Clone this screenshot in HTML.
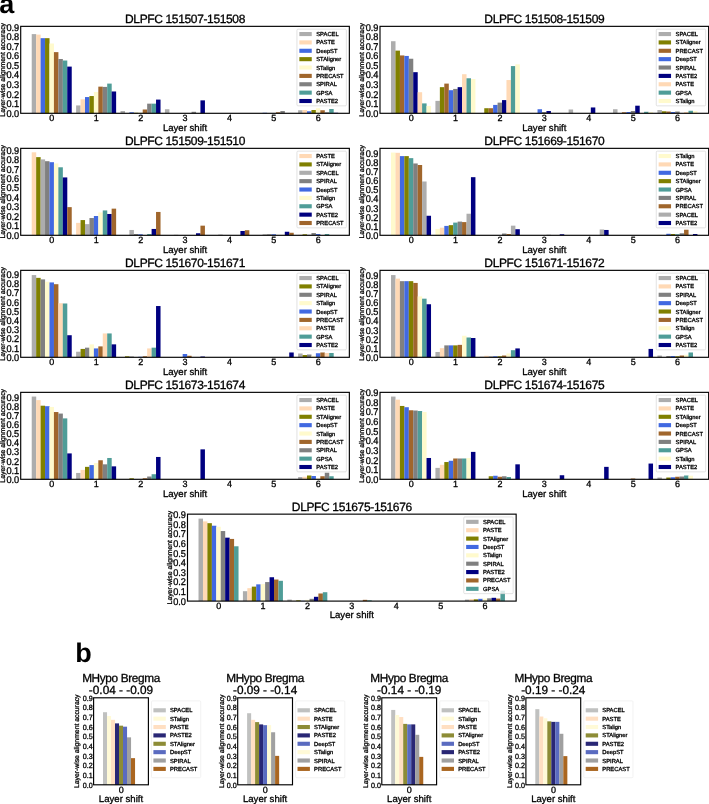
<!DOCTYPE html>
<html lang="en">
<head>
<meta charset="utf-8">
<title>Layer-wise alignment accuracy</title>
<style>
html,body{margin:0;padding:0;background:#fff;}
body{width:709px;height:804px;overflow:hidden;}
svg{display:block;font-family:"Liberation Sans",sans-serif;fill:#000;}
svg text{text-rendering:geometricPrecision;letter-spacing:-0.03em;stroke:#000;stroke-width:0.3px;stroke-linejoin:round;}
svg rect{shape-rendering:auto;}
.lg{stroke-width:0.3px;letter-spacing:0;}
.yt{letter-spacing:0;}
.pl{stroke-width:0;letter-spacing:0;}
.xl{letter-spacing:0;}
.yl{stroke-width:0.28px;letter-spacing:-0.005em;}
</style>
</head>
<body>
<svg width="709" height="804" viewBox="0 0 709 804">
<rect x="0" y="0" width="709" height="804" fill="#fff"/>
<rect x="31.72" y="34.11" width="4.49" height="79.19" fill="#adadad"/>
<rect x="36.16" y="34.62" width="4.49" height="78.68" fill="#ffd9b5"/>
<rect x="40.6" y="38.17" width="4.49" height="75.13" fill="#4169e1"/>
<rect x="45.04" y="38.17" width="4.49" height="75.13" fill="#808000"/>
<rect x="49.48" y="43.5" width="4.49" height="69.8" fill="#fffacd"/>
<rect x="53.92" y="52.13" width="4.49" height="61.17" fill="#a0662c"/>
<rect x="58.36" y="58.99" width="4.49" height="54.31" fill="#808080"/>
<rect x="62.8" y="60.51" width="4.49" height="52.79" fill="#4f9d98"/>
<rect x="67.24" y="66.6" width="4.49" height="46.7" fill="#000080"/>
<rect x="76.12" y="105.43" width="4.49" height="7.87" fill="#adadad"/>
<rect x="80.56" y="99.34" width="4.49" height="13.96" fill="#ffd9b5"/>
<rect x="85" y="97.06" width="4.49" height="16.24" fill="#4169e1"/>
<rect x="89.44" y="96.04" width="4.49" height="17.26" fill="#808000"/>
<rect x="93.88" y="91.98" width="4.49" height="21.32" fill="#fffacd"/>
<rect x="98.32" y="86.65" width="4.49" height="26.65" fill="#a0662c"/>
<rect x="102.76" y="86.9" width="4.49" height="26.4" fill="#808080"/>
<rect x="107.2" y="83.6" width="4.49" height="29.7" fill="#4f9d98"/>
<rect x="111.64" y="91.47" width="4.49" height="21.83" fill="#000080"/>
<rect x="120.52" y="111.02" width="4.49" height="2.28" fill="#adadad"/>
<rect x="129.4" y="112.28" width="4.49" height="1.02" fill="#4169e1"/>
<rect x="133.84" y="112.79" width="4.49" height="0.51" fill="#808000"/>
<rect x="138.28" y="112.54" width="4.49" height="0.76" fill="#fffacd"/>
<rect x="142.72" y="109.49" width="4.49" height="3.81" fill="#a0662c"/>
<rect x="147.16" y="103.66" width="4.49" height="9.64" fill="#808080"/>
<rect x="151.6" y="103.66" width="4.49" height="9.64" fill="#4f9d98"/>
<rect x="156.04" y="99.59" width="4.49" height="13.71" fill="#000080"/>
<rect x="164.92" y="109.24" width="4.49" height="4.06" fill="#adadad"/>
<rect x="191.56" y="111.78" width="4.49" height="1.52" fill="#808080"/>
<rect x="200.44" y="100.36" width="4.49" height="12.94" fill="#000080"/>
<rect x="262.6" y="112.79" width="4.49" height="0.51" fill="#4169e1"/>
<rect x="275.92" y="112.28" width="4.49" height="1.02" fill="#a0662c"/>
<rect x="280.36" y="111.02" width="4.49" height="2.28" fill="#808080"/>
<rect x="298.12" y="110.25" width="4.49" height="3.05" fill="#adadad"/>
<rect x="302.56" y="110" width="4.49" height="3.3" fill="#ffd9b5"/>
<rect x="307" y="111.27" width="4.49" height="2.03" fill="#4169e1"/>
<rect x="311.44" y="110" width="4.49" height="3.3" fill="#808000"/>
<rect x="315.88" y="108.22" width="4.49" height="5.08" fill="#fffacd"/>
<rect x="320.32" y="110.25" width="4.49" height="3.05" fill="#a0662c"/>
<rect x="324.76" y="112.28" width="4.49" height="1.02" fill="#808080"/>
<rect x="329.2" y="108.99" width="4.49" height="4.31" fill="#4f9d98"/>
<rect x="333.64" y="112.79" width="4.49" height="0.51" fill="#000080"/>
<text x="19.2" y="116.81" font-size="9.8" text-anchor="end" class="yt" textLength="12.8" lengthAdjust="spacingAndGlyphs">0.0</text>
<text x="19.2" y="107.23" font-size="9.8" text-anchor="end" class="yt" textLength="12.8" lengthAdjust="spacingAndGlyphs">0.1</text>
<text x="19.2" y="97.65" font-size="9.8" text-anchor="end" class="yt" textLength="12.8" lengthAdjust="spacingAndGlyphs">0.2</text>
<text x="19.2" y="88.06" font-size="9.8" text-anchor="end" class="yt" textLength="12.8" lengthAdjust="spacingAndGlyphs">0.3</text>
<text x="19.2" y="78.48" font-size="9.8" text-anchor="end" class="yt" textLength="12.8" lengthAdjust="spacingAndGlyphs">0.4</text>
<text x="19.2" y="68.9" font-size="9.8" text-anchor="end" class="yt" textLength="12.8" lengthAdjust="spacingAndGlyphs">0.5</text>
<text x="19.2" y="59.32" font-size="9.8" text-anchor="end" class="yt" textLength="12.8" lengthAdjust="spacingAndGlyphs">0.6</text>
<text x="19.2" y="49.74" font-size="9.8" text-anchor="end" class="yt" textLength="12.8" lengthAdjust="spacingAndGlyphs">0.7</text>
<text x="19.2" y="40.16" font-size="9.8" text-anchor="end" class="yt" textLength="12.8" lengthAdjust="spacingAndGlyphs">0.8</text>
<text x="19.2" y="30.58" font-size="9.8" text-anchor="end" class="yt" textLength="12.8" lengthAdjust="spacingAndGlyphs">0.9</text>
<text transform="translate(5 69.83) rotate(-90)" font-size="6.9" text-anchor="middle" class="yl">Layer-wise alignment accuracy</text>
<rect x="20.7" y="26.35" width="328.65" height="86.95" fill="none" stroke="#000" stroke-width="1.15"/>
<text x="51.7" y="121.2" font-size="9" text-anchor="middle">0</text>
<text x="96.1" y="121.2" font-size="9" text-anchor="middle">1</text>
<text x="140.5" y="121.2" font-size="9" text-anchor="middle">2</text>
<text x="184.9" y="121.2" font-size="9" text-anchor="middle">3</text>
<text x="229.3" y="121.2" font-size="9" text-anchor="middle">4</text>
<text x="273.7" y="121.2" font-size="9" text-anchor="middle">5</text>
<text x="318.1" y="121.2" font-size="9" text-anchor="middle">6</text>
<text x="185.02" y="130.5" font-size="9.6" text-anchor="middle" class="xl">Layer shift</text>
<text x="185.02" y="23.35" font-size="12" text-anchor="middle">DLPFC 151507-151508</text>
<rect x="296.95" y="29.15" width="49.4" height="76.7" rx="1" fill="#fff" fill-opacity="0.8" stroke="#d6d6d6" stroke-width="0.7"/>
<rect x="299.35" y="32" width="12.4" height="4.1" fill="#adadad"/>
<text x="316.25" y="36.05" font-size="5.8" text-anchor="start" class="lg">SPACEL</text>
<rect x="299.35" y="40.37" width="12.4" height="4.1" fill="#ffd9b5"/>
<text x="316.25" y="44.42" font-size="5.8" text-anchor="start" class="lg">PASTE</text>
<rect x="299.35" y="48.74" width="12.4" height="4.1" fill="#4169e1"/>
<text x="316.25" y="52.79" font-size="5.8" text-anchor="start" class="lg">DeepST</text>
<rect x="299.35" y="57.11" width="12.4" height="4.1" fill="#808000"/>
<text x="316.25" y="61.16" font-size="5.8" text-anchor="start" class="lg">STAligner</text>
<rect x="299.35" y="65.48" width="12.4" height="4.1" fill="#fffacd"/>
<text x="316.25" y="69.53" font-size="5.8" text-anchor="start" class="lg">STalign</text>
<rect x="299.35" y="73.85" width="12.4" height="4.1" fill="#a0662c"/>
<text x="316.25" y="77.9" font-size="5.8" text-anchor="start" class="lg">PRECAST</text>
<rect x="299.35" y="82.22" width="12.4" height="4.1" fill="#808080"/>
<text x="316.25" y="86.27" font-size="5.8" text-anchor="start" class="lg">SPIRAL</text>
<rect x="299.35" y="90.59" width="12.4" height="4.1" fill="#4f9d98"/>
<text x="316.25" y="94.64" font-size="5.8" text-anchor="start" class="lg">GPSA</text>
<rect x="299.35" y="98.96" width="12.4" height="4.1" fill="#000080"/>
<text x="316.25" y="103.01" font-size="5.8" text-anchor="start" class="lg">PASTE2</text>
<rect x="391.02" y="41.22" width="4.49" height="72.08" fill="#adadad"/>
<rect x="395.46" y="50.61" width="4.49" height="62.69" fill="#808000"/>
<rect x="399.9" y="55.43" width="4.49" height="57.87" fill="#a0662c"/>
<rect x="404.34" y="55.94" width="4.49" height="57.36" fill="#4169e1"/>
<rect x="408.78" y="58.73" width="4.49" height="54.57" fill="#808080"/>
<rect x="413.22" y="72.18" width="4.49" height="41.12" fill="#000080"/>
<rect x="417.66" y="92.23" width="4.49" height="21.07" fill="#ffd9b5"/>
<rect x="422.1" y="103.4" width="4.49" height="9.9" fill="#4f9d98"/>
<rect x="426.54" y="105.94" width="4.49" height="7.36" fill="#fffacd"/>
<rect x="435.42" y="100.86" width="4.49" height="12.44" fill="#adadad"/>
<rect x="439.86" y="87.16" width="4.49" height="26.14" fill="#808000"/>
<rect x="444.3" y="83.6" width="4.49" height="29.7" fill="#a0662c"/>
<rect x="448.74" y="90.2" width="4.49" height="23.1" fill="#4169e1"/>
<rect x="453.18" y="88.93" width="4.49" height="24.37" fill="#808080"/>
<rect x="457.62" y="87.16" width="4.49" height="26.14" fill="#000080"/>
<rect x="462.06" y="74.21" width="4.49" height="39.09" fill="#ffd9b5"/>
<rect x="466.5" y="78.27" width="4.49" height="35.03" fill="#4f9d98"/>
<rect x="470.94" y="79.04" width="4.49" height="34.26" fill="#fffacd"/>
<rect x="484.26" y="108.22" width="4.49" height="5.08" fill="#808000"/>
<rect x="488.7" y="108.22" width="4.49" height="5.08" fill="#a0662c"/>
<rect x="493.14" y="104.92" width="4.49" height="8.38" fill="#4169e1"/>
<rect x="497.58" y="102.64" width="4.49" height="10.66" fill="#808080"/>
<rect x="502.02" y="100.1" width="4.49" height="13.2" fill="#000080"/>
<rect x="506.46" y="80.05" width="4.49" height="33.25" fill="#ffd9b5"/>
<rect x="510.9" y="66.09" width="4.49" height="47.21" fill="#4f9d98"/>
<rect x="515.34" y="64.32" width="4.49" height="48.98" fill="#fffacd"/>
<rect x="537.54" y="109.24" width="4.49" height="4.06" fill="#4169e1"/>
<rect x="541.98" y="112.03" width="4.49" height="1.27" fill="#808080"/>
<rect x="546.42" y="111.02" width="4.49" height="2.28" fill="#000080"/>
<rect x="568.62" y="109.49" width="4.49" height="3.81" fill="#adadad"/>
<rect x="590.82" y="107.46" width="4.49" height="5.84" fill="#000080"/>
<rect x="613.02" y="109.24" width="4.49" height="4.06" fill="#adadad"/>
<rect x="621.9" y="112.28" width="4.49" height="1.02" fill="#a0662c"/>
<rect x="626.34" y="112.03" width="4.49" height="1.27" fill="#4169e1"/>
<rect x="630.78" y="111.02" width="4.49" height="2.28" fill="#808080"/>
<rect x="635.22" y="105.69" width="4.49" height="7.61" fill="#000080"/>
<rect x="644.1" y="111.78" width="4.49" height="1.52" fill="#4f9d98"/>
<rect x="648.54" y="112.03" width="4.49" height="1.27" fill="#fffacd"/>
<rect x="657.42" y="110" width="4.49" height="3.3" fill="#adadad"/>
<rect x="661.86" y="111.27" width="4.49" height="2.03" fill="#808000"/>
<rect x="666.3" y="111.52" width="4.49" height="1.78" fill="#a0662c"/>
<rect x="670.74" y="112.03" width="4.49" height="1.27" fill="#4169e1"/>
<rect x="675.18" y="111.52" width="4.49" height="1.78" fill="#808080"/>
<rect x="684.06" y="112.03" width="4.49" height="1.27" fill="#ffd9b5"/>
<rect x="688.5" y="110.76" width="4.49" height="2.54" fill="#4f9d98"/>
<rect x="692.94" y="111.02" width="4.49" height="2.28" fill="#fffacd"/>
<text x="378.5" y="116.81" font-size="9.8" text-anchor="end" class="yt" textLength="12.8" lengthAdjust="spacingAndGlyphs">0.0</text>
<text x="378.5" y="107.23" font-size="9.8" text-anchor="end" class="yt" textLength="12.8" lengthAdjust="spacingAndGlyphs">0.1</text>
<text x="378.5" y="97.65" font-size="9.8" text-anchor="end" class="yt" textLength="12.8" lengthAdjust="spacingAndGlyphs">0.2</text>
<text x="378.5" y="88.06" font-size="9.8" text-anchor="end" class="yt" textLength="12.8" lengthAdjust="spacingAndGlyphs">0.3</text>
<text x="378.5" y="78.48" font-size="9.8" text-anchor="end" class="yt" textLength="12.8" lengthAdjust="spacingAndGlyphs">0.4</text>
<text x="378.5" y="68.9" font-size="9.8" text-anchor="end" class="yt" textLength="12.8" lengthAdjust="spacingAndGlyphs">0.5</text>
<text x="378.5" y="59.32" font-size="9.8" text-anchor="end" class="yt" textLength="12.8" lengthAdjust="spacingAndGlyphs">0.6</text>
<text x="378.5" y="49.74" font-size="9.8" text-anchor="end" class="yt" textLength="12.8" lengthAdjust="spacingAndGlyphs">0.7</text>
<text x="378.5" y="40.16" font-size="9.8" text-anchor="end" class="yt" textLength="12.8" lengthAdjust="spacingAndGlyphs">0.8</text>
<text x="378.5" y="30.58" font-size="9.8" text-anchor="end" class="yt" textLength="12.8" lengthAdjust="spacingAndGlyphs">0.9</text>
<text transform="translate(364.3 69.83) rotate(-90)" font-size="6.9" text-anchor="middle" class="yl">Layer-wise alignment accuracy</text>
<rect x="380" y="26.35" width="328.65" height="86.95" fill="none" stroke="#000" stroke-width="1.15"/>
<text x="411" y="121.2" font-size="9" text-anchor="middle">0</text>
<text x="455.4" y="121.2" font-size="9" text-anchor="middle">1</text>
<text x="499.8" y="121.2" font-size="9" text-anchor="middle">2</text>
<text x="544.2" y="121.2" font-size="9" text-anchor="middle">3</text>
<text x="588.6" y="121.2" font-size="9" text-anchor="middle">4</text>
<text x="633" y="121.2" font-size="9" text-anchor="middle">5</text>
<text x="677.4" y="121.2" font-size="9" text-anchor="middle">6</text>
<text x="544.33" y="130.5" font-size="9.6" text-anchor="middle" class="xl">Layer shift</text>
<text x="544.33" y="23.35" font-size="12" text-anchor="middle">DLPFC 151508-151509</text>
<rect x="656.25" y="29.15" width="49.4" height="76.7" rx="1" fill="#fff" fill-opacity="0.8" stroke="#d6d6d6" stroke-width="0.7"/>
<rect x="658.65" y="32" width="12.4" height="4.1" fill="#adadad"/>
<text x="675.55" y="36.05" font-size="5.8" text-anchor="start" class="lg">SPACEL</text>
<rect x="658.65" y="40.37" width="12.4" height="4.1" fill="#808000"/>
<text x="675.55" y="44.42" font-size="5.8" text-anchor="start" class="lg">STAligner</text>
<rect x="658.65" y="48.74" width="12.4" height="4.1" fill="#a0662c"/>
<text x="675.55" y="52.79" font-size="5.8" text-anchor="start" class="lg">PRECAST</text>
<rect x="658.65" y="57.11" width="12.4" height="4.1" fill="#4169e1"/>
<text x="675.55" y="61.16" font-size="5.8" text-anchor="start" class="lg">DeepST</text>
<rect x="658.65" y="65.48" width="12.4" height="4.1" fill="#808080"/>
<text x="675.55" y="69.53" font-size="5.8" text-anchor="start" class="lg">SPIRAL</text>
<rect x="658.65" y="73.85" width="12.4" height="4.1" fill="#000080"/>
<text x="675.55" y="77.9" font-size="5.8" text-anchor="start" class="lg">PASTE2</text>
<rect x="658.65" y="82.22" width="12.4" height="4.1" fill="#ffd9b5"/>
<text x="675.55" y="86.27" font-size="5.8" text-anchor="start" class="lg">PASTE</text>
<rect x="658.65" y="90.59" width="12.4" height="4.1" fill="#4f9d98"/>
<text x="675.55" y="94.64" font-size="5.8" text-anchor="start" class="lg">GPSA</text>
<rect x="658.65" y="98.96" width="12.4" height="4.1" fill="#fffacd"/>
<text x="675.55" y="103.01" font-size="5.8" text-anchor="start" class="lg">STalign</text>
<rect x="31.72" y="152.31" width="4.49" height="82.99" fill="#ffd9b5"/>
<rect x="36.16" y="157.13" width="4.49" height="78.17" fill="#808000"/>
<rect x="40.6" y="159.41" width="4.49" height="75.89" fill="#adadad"/>
<rect x="45.04" y="161.19" width="4.49" height="74.11" fill="#808080"/>
<rect x="49.48" y="162.2" width="4.49" height="73.1" fill="#4169e1"/>
<rect x="53.92" y="163.47" width="4.49" height="71.83" fill="#fffacd"/>
<rect x="58.36" y="167.28" width="4.49" height="68.02" fill="#4f9d98"/>
<rect x="62.8" y="177.43" width="4.49" height="57.87" fill="#000080"/>
<rect x="67.24" y="207.13" width="4.49" height="28.17" fill="#a0662c"/>
<rect x="76.12" y="222.86" width="4.49" height="12.44" fill="#ffd9b5"/>
<rect x="80.56" y="220.07" width="4.49" height="15.23" fill="#808000"/>
<rect x="85" y="224.13" width="4.49" height="11.17" fill="#adadad"/>
<rect x="89.44" y="218.04" width="4.49" height="17.26" fill="#808080"/>
<rect x="93.88" y="216.01" width="4.49" height="19.29" fill="#4169e1"/>
<rect x="98.32" y="212.46" width="4.49" height="22.84" fill="#fffacd"/>
<rect x="102.76" y="210.43" width="4.49" height="24.87" fill="#4f9d98"/>
<rect x="107.2" y="213.98" width="4.49" height="21.32" fill="#000080"/>
<rect x="111.64" y="208.65" width="4.49" height="26.65" fill="#a0662c"/>
<rect x="129.4" y="229.97" width="4.49" height="5.33" fill="#adadad"/>
<rect x="133.84" y="234.03" width="4.49" height="1.27" fill="#808080"/>
<rect x="138.28" y="234.28" width="4.49" height="1.02" fill="#4169e1"/>
<rect x="147.16" y="234.03" width="4.49" height="1.27" fill="#4f9d98"/>
<rect x="151.6" y="228.95" width="4.49" height="6.35" fill="#000080"/>
<rect x="156.04" y="211.95" width="4.49" height="23.35" fill="#a0662c"/>
<rect x="173.8" y="234.79" width="4.49" height="0.51" fill="#adadad"/>
<rect x="196" y="233.27" width="4.49" height="2.03" fill="#000080"/>
<rect x="200.44" y="225.66" width="4.49" height="9.64" fill="#a0662c"/>
<rect x="218.2" y="234.54" width="4.49" height="0.76" fill="#adadad"/>
<rect x="240.4" y="230.99" width="4.49" height="4.31" fill="#000080"/>
<rect x="244.84" y="230.22" width="4.49" height="5.08" fill="#a0662c"/>
<rect x="262.6" y="234.28" width="4.49" height="1.02" fill="#adadad"/>
<rect x="267.04" y="234.28" width="4.49" height="1.02" fill="#808080"/>
<rect x="271.48" y="234.28" width="4.49" height="1.02" fill="#4169e1"/>
<rect x="284.8" y="231.75" width="4.49" height="3.55" fill="#000080"/>
<rect x="289.24" y="232.76" width="4.49" height="2.54" fill="#a0662c"/>
<rect x="298.12" y="234.79" width="4.49" height="0.51" fill="#ffd9b5"/>
<rect x="302.56" y="234.28" width="4.49" height="1.02" fill="#808000"/>
<rect x="307" y="234.79" width="4.49" height="0.51" fill="#adadad"/>
<rect x="311.44" y="233.02" width="4.49" height="2.28" fill="#808080"/>
<rect x="315.88" y="234.03" width="4.49" height="1.27" fill="#4169e1"/>
<rect x="324.76" y="234.03" width="4.49" height="1.27" fill="#4f9d98"/>
<text x="19.2" y="238.81" font-size="9.8" text-anchor="end" class="yt" textLength="12.8" lengthAdjust="spacingAndGlyphs">0.0</text>
<text x="19.2" y="229.34" font-size="9.8" text-anchor="end" class="yt" textLength="12.8" lengthAdjust="spacingAndGlyphs">0.1</text>
<text x="19.2" y="219.87" font-size="9.8" text-anchor="end" class="yt" textLength="12.8" lengthAdjust="spacingAndGlyphs">0.2</text>
<text x="19.2" y="210.41" font-size="9.8" text-anchor="end" class="yt" textLength="12.8" lengthAdjust="spacingAndGlyphs">0.3</text>
<text x="19.2" y="200.94" font-size="9.8" text-anchor="end" class="yt" textLength="12.8" lengthAdjust="spacingAndGlyphs">0.4</text>
<text x="19.2" y="191.47" font-size="9.8" text-anchor="end" class="yt" textLength="12.8" lengthAdjust="spacingAndGlyphs">0.5</text>
<text x="19.2" y="182.01" font-size="9.8" text-anchor="end" class="yt" textLength="12.8" lengthAdjust="spacingAndGlyphs">0.6</text>
<text x="19.2" y="172.54" font-size="9.8" text-anchor="end" class="yt" textLength="12.8" lengthAdjust="spacingAndGlyphs">0.7</text>
<text x="19.2" y="163.07" font-size="9.8" text-anchor="end" class="yt" textLength="12.8" lengthAdjust="spacingAndGlyphs">0.8</text>
<text x="19.2" y="153.61" font-size="9.8" text-anchor="end" class="yt" textLength="12.8" lengthAdjust="spacingAndGlyphs">0.9</text>
<text transform="translate(5 191.82) rotate(-90)" font-size="6.9" text-anchor="middle" class="yl">Layer-wise alignment accuracy</text>
<rect x="20.7" y="148.35" width="328.65" height="86.95" fill="none" stroke="#000" stroke-width="1.15"/>
<text x="51.7" y="243.2" font-size="9" text-anchor="middle">0</text>
<text x="96.1" y="243.2" font-size="9" text-anchor="middle">1</text>
<text x="140.5" y="243.2" font-size="9" text-anchor="middle">2</text>
<text x="184.9" y="243.2" font-size="9" text-anchor="middle">3</text>
<text x="229.3" y="243.2" font-size="9" text-anchor="middle">4</text>
<text x="273.7" y="243.2" font-size="9" text-anchor="middle">5</text>
<text x="318.1" y="243.2" font-size="9" text-anchor="middle">6</text>
<text x="185.02" y="252.5" font-size="9.6" text-anchor="middle" class="xl">Layer shift</text>
<text x="185.02" y="145.35" font-size="12" text-anchor="middle">DLPFC 151509-151510</text>
<rect x="296.95" y="151.15" width="49.4" height="76.7" rx="1" fill="#fff" fill-opacity="0.8" stroke="#d6d6d6" stroke-width="0.7"/>
<rect x="299.35" y="154" width="12.4" height="4.1" fill="#ffd9b5"/>
<text x="316.25" y="158.05" font-size="5.8" text-anchor="start" class="lg">PASTE</text>
<rect x="299.35" y="162.37" width="12.4" height="4.1" fill="#808000"/>
<text x="316.25" y="166.42" font-size="5.8" text-anchor="start" class="lg">STAligner</text>
<rect x="299.35" y="170.74" width="12.4" height="4.1" fill="#adadad"/>
<text x="316.25" y="174.79" font-size="5.8" text-anchor="start" class="lg">SPACEL</text>
<rect x="299.35" y="179.11" width="12.4" height="4.1" fill="#808080"/>
<text x="316.25" y="183.16" font-size="5.8" text-anchor="start" class="lg">SPIRAL</text>
<rect x="299.35" y="187.48" width="12.4" height="4.1" fill="#4169e1"/>
<text x="316.25" y="191.53" font-size="5.8" text-anchor="start" class="lg">DeepST</text>
<rect x="299.35" y="195.85" width="12.4" height="4.1" fill="#fffacd"/>
<text x="316.25" y="199.9" font-size="5.8" text-anchor="start" class="lg">STalign</text>
<rect x="299.35" y="204.22" width="12.4" height="4.1" fill="#4f9d98"/>
<text x="316.25" y="208.27" font-size="5.8" text-anchor="start" class="lg">GPSA</text>
<rect x="299.35" y="212.59" width="12.4" height="4.1" fill="#000080"/>
<text x="316.25" y="216.64" font-size="5.8" text-anchor="start" class="lg">PASTE2</text>
<rect x="299.35" y="220.96" width="12.4" height="4.1" fill="#a0662c"/>
<text x="316.25" y="225.01" font-size="5.8" text-anchor="start" class="lg">PRECAST</text>
<rect x="391.02" y="152.56" width="4.49" height="82.74" fill="#fffacd"/>
<rect x="395.46" y="152.81" width="4.49" height="82.49" fill="#ffd9b5"/>
<rect x="399.9" y="156.11" width="4.49" height="79.19" fill="#4169e1"/>
<rect x="404.34" y="156.11" width="4.49" height="79.19" fill="#808000"/>
<rect x="408.78" y="158.14" width="4.49" height="77.16" fill="#4f9d98"/>
<rect x="413.22" y="163.47" width="4.49" height="71.83" fill="#808080"/>
<rect x="417.66" y="165" width="4.49" height="70.3" fill="#a0662c"/>
<rect x="422.1" y="181.49" width="4.49" height="53.81" fill="#adadad"/>
<rect x="426.54" y="215.76" width="4.49" height="19.54" fill="#000080"/>
<rect x="435.42" y="228.95" width="4.49" height="6.35" fill="#fffacd"/>
<rect x="439.86" y="227.69" width="4.49" height="7.61" fill="#ffd9b5"/>
<rect x="444.3" y="225.91" width="4.49" height="9.39" fill="#4169e1"/>
<rect x="448.74" y="225.15" width="4.49" height="10.15" fill="#808000"/>
<rect x="453.18" y="222.61" width="4.49" height="12.69" fill="#4f9d98"/>
<rect x="457.62" y="221.59" width="4.49" height="13.71" fill="#808080"/>
<rect x="462.06" y="222.1" width="4.49" height="13.2" fill="#a0662c"/>
<rect x="466.5" y="213.73" width="4.49" height="21.57" fill="#adadad"/>
<rect x="470.94" y="177.18" width="4.49" height="58.12" fill="#000080"/>
<rect x="502.02" y="233.52" width="4.49" height="1.78" fill="#808080"/>
<rect x="506.46" y="234.03" width="4.49" height="1.27" fill="#a0662c"/>
<rect x="510.9" y="225.66" width="4.49" height="9.64" fill="#adadad"/>
<rect x="515.34" y="229.21" width="4.49" height="6.09" fill="#000080"/>
<rect x="546.42" y="234.79" width="4.49" height="0.51" fill="#808080"/>
<rect x="559.74" y="234.28" width="4.49" height="1.02" fill="#000080"/>
<rect x="599.7" y="229.46" width="4.49" height="5.84" fill="#adadad"/>
<rect x="604.14" y="229.97" width="4.49" height="5.33" fill="#000080"/>
<rect x="635.22" y="235.05" width="4.49" height="0.25" fill="#808080"/>
<rect x="657.42" y="234.79" width="4.49" height="0.51" fill="#fffacd"/>
<rect x="666.3" y="233.78" width="4.49" height="1.52" fill="#4169e1"/>
<rect x="670.74" y="234.03" width="4.49" height="1.27" fill="#808000"/>
<rect x="675.18" y="234.28" width="4.49" height="1.02" fill="#4f9d98"/>
<rect x="679.62" y="233.27" width="4.49" height="2.03" fill="#808080"/>
<rect x="684.06" y="229.72" width="4.49" height="5.58" fill="#a0662c"/>
<rect x="692.94" y="234.03" width="4.49" height="1.27" fill="#000080"/>
<text x="378.5" y="238.81" font-size="9.8" text-anchor="end" class="yt" textLength="12.8" lengthAdjust="spacingAndGlyphs">0.0</text>
<text x="378.5" y="229.72" font-size="9.8" text-anchor="end" class="yt" textLength="12.8" lengthAdjust="spacingAndGlyphs">0.1</text>
<text x="378.5" y="220.64" font-size="9.8" text-anchor="end" class="yt" textLength="12.8" lengthAdjust="spacingAndGlyphs">0.2</text>
<text x="378.5" y="211.55" font-size="9.8" text-anchor="end" class="yt" textLength="12.8" lengthAdjust="spacingAndGlyphs">0.3</text>
<text x="378.5" y="202.46" font-size="9.8" text-anchor="end" class="yt" textLength="12.8" lengthAdjust="spacingAndGlyphs">0.4</text>
<text x="378.5" y="193.38" font-size="9.8" text-anchor="end" class="yt" textLength="12.8" lengthAdjust="spacingAndGlyphs">0.5</text>
<text x="378.5" y="184.29" font-size="9.8" text-anchor="end" class="yt" textLength="12.8" lengthAdjust="spacingAndGlyphs">0.6</text>
<text x="378.5" y="175.2" font-size="9.8" text-anchor="end" class="yt" textLength="12.8" lengthAdjust="spacingAndGlyphs">0.7</text>
<text x="378.5" y="166.12" font-size="9.8" text-anchor="end" class="yt" textLength="12.8" lengthAdjust="spacingAndGlyphs">0.8</text>
<text x="378.5" y="157.03" font-size="9.8" text-anchor="end" class="yt" textLength="12.8" lengthAdjust="spacingAndGlyphs">0.9</text>
<text transform="translate(364.3 191.82) rotate(-90)" font-size="6.9" text-anchor="middle" class="yl">Layer-wise alignment accuracy</text>
<rect x="380" y="148.35" width="328.65" height="86.95" fill="none" stroke="#000" stroke-width="1.15"/>
<text x="411" y="243.2" font-size="9" text-anchor="middle">0</text>
<text x="455.4" y="243.2" font-size="9" text-anchor="middle">1</text>
<text x="499.8" y="243.2" font-size="9" text-anchor="middle">2</text>
<text x="544.2" y="243.2" font-size="9" text-anchor="middle">3</text>
<text x="588.6" y="243.2" font-size="9" text-anchor="middle">4</text>
<text x="633" y="243.2" font-size="9" text-anchor="middle">5</text>
<text x="677.4" y="243.2" font-size="9" text-anchor="middle">6</text>
<text x="544.33" y="252.5" font-size="9.6" text-anchor="middle" class="xl">Layer shift</text>
<text x="544.33" y="145.35" font-size="12" text-anchor="middle">DLPFC 151669-151670</text>
<rect x="656.25" y="151.15" width="49.4" height="76.7" rx="1" fill="#fff" fill-opacity="0.8" stroke="#d6d6d6" stroke-width="0.7"/>
<rect x="658.65" y="154" width="12.4" height="4.1" fill="#fffacd"/>
<text x="675.55" y="158.05" font-size="5.8" text-anchor="start" class="lg">STalign</text>
<rect x="658.65" y="162.37" width="12.4" height="4.1" fill="#ffd9b5"/>
<text x="675.55" y="166.42" font-size="5.8" text-anchor="start" class="lg">PASTE</text>
<rect x="658.65" y="170.74" width="12.4" height="4.1" fill="#4169e1"/>
<text x="675.55" y="174.79" font-size="5.8" text-anchor="start" class="lg">DeepST</text>
<rect x="658.65" y="179.11" width="12.4" height="4.1" fill="#808000"/>
<text x="675.55" y="183.16" font-size="5.8" text-anchor="start" class="lg">STAligner</text>
<rect x="658.65" y="187.48" width="12.4" height="4.1" fill="#4f9d98"/>
<text x="675.55" y="191.53" font-size="5.8" text-anchor="start" class="lg">GPSA</text>
<rect x="658.65" y="195.85" width="12.4" height="4.1" fill="#808080"/>
<text x="675.55" y="199.9" font-size="5.8" text-anchor="start" class="lg">SPIRAL</text>
<rect x="658.65" y="204.22" width="12.4" height="4.1" fill="#a0662c"/>
<text x="675.55" y="208.27" font-size="5.8" text-anchor="start" class="lg">PRECAST</text>
<rect x="658.65" y="212.59" width="12.4" height="4.1" fill="#adadad"/>
<text x="675.55" y="216.64" font-size="5.8" text-anchor="start" class="lg">SPACEL</text>
<rect x="658.65" y="220.96" width="12.4" height="4.1" fill="#000080"/>
<text x="675.55" y="225.01" font-size="5.8" text-anchor="start" class="lg">PASTE2</text>
<rect x="31.72" y="275.07" width="4.49" height="82.23" fill="#adadad"/>
<rect x="36.16" y="277.86" width="4.49" height="79.44" fill="#808000"/>
<rect x="40.6" y="279.38" width="4.49" height="77.92" fill="#808080"/>
<rect x="45.04" y="281.67" width="4.49" height="75.63" fill="#fffacd"/>
<rect x="49.48" y="282.43" width="4.49" height="74.87" fill="#4169e1"/>
<rect x="53.92" y="284.2" width="4.49" height="73.1" fill="#a0662c"/>
<rect x="58.36" y="303.24" width="4.49" height="54.06" fill="#ffd9b5"/>
<rect x="62.8" y="303.49" width="4.49" height="53.81" fill="#4f9d98"/>
<rect x="67.24" y="335.22" width="4.49" height="22.08" fill="#000080"/>
<rect x="76.12" y="351.72" width="4.49" height="5.58" fill="#adadad"/>
<rect x="80.56" y="348.92" width="4.49" height="8.38" fill="#808000"/>
<rect x="85" y="347.66" width="4.49" height="9.64" fill="#808080"/>
<rect x="89.44" y="344.36" width="4.49" height="12.94" fill="#fffacd"/>
<rect x="93.88" y="348.42" width="4.49" height="8.88" fill="#4169e1"/>
<rect x="98.32" y="346.39" width="4.49" height="10.91" fill="#a0662c"/>
<rect x="102.76" y="333.44" width="4.49" height="23.86" fill="#ffd9b5"/>
<rect x="107.2" y="333.44" width="4.49" height="23.86" fill="#4f9d98"/>
<rect x="111.64" y="344.36" width="4.49" height="12.94" fill="#000080"/>
<rect x="124.96" y="356.28" width="4.49" height="1.02" fill="#808000"/>
<rect x="129.4" y="356.54" width="4.49" height="0.76" fill="#808080"/>
<rect x="138.28" y="356.79" width="4.49" height="0.51" fill="#4169e1"/>
<rect x="142.72" y="356.28" width="4.49" height="1.02" fill="#a0662c"/>
<rect x="147.16" y="348.42" width="4.49" height="8.88" fill="#ffd9b5"/>
<rect x="151.6" y="347.66" width="4.49" height="9.64" fill="#4f9d98"/>
<rect x="156.04" y="306.03" width="4.49" height="51.27" fill="#000080"/>
<rect x="178.24" y="357.05" width="4.49" height="0.25" fill="#fffacd"/>
<rect x="182.68" y="354" width="4.49" height="3.3" fill="#4169e1"/>
<rect x="187.12" y="355.78" width="4.49" height="1.52" fill="#a0662c"/>
<rect x="200.44" y="356.54" width="4.49" height="0.76" fill="#000080"/>
<rect x="289.24" y="352.48" width="4.49" height="4.82" fill="#000080"/>
<rect x="298.12" y="353.49" width="4.49" height="3.81" fill="#adadad"/>
<rect x="302.56" y="355.02" width="4.49" height="2.28" fill="#808000"/>
<rect x="307" y="354.51" width="4.49" height="2.79" fill="#808080"/>
<rect x="311.44" y="355.78" width="4.49" height="1.52" fill="#fffacd"/>
<rect x="315.88" y="353.24" width="4.49" height="4.06" fill="#4169e1"/>
<rect x="320.32" y="352.48" width="4.49" height="4.82" fill="#a0662c"/>
<rect x="324.76" y="352.99" width="4.49" height="4.31" fill="#ffd9b5"/>
<rect x="329.2" y="352.99" width="4.49" height="4.31" fill="#4f9d98"/>
<text x="19.2" y="360.81" font-size="9.8" text-anchor="end" class="yt" textLength="12.8" lengthAdjust="spacingAndGlyphs">0.0</text>
<text x="19.2" y="351.6" font-size="9.8" text-anchor="end" class="yt" textLength="12.8" lengthAdjust="spacingAndGlyphs">0.1</text>
<text x="19.2" y="342.38" font-size="9.8" text-anchor="end" class="yt" textLength="12.8" lengthAdjust="spacingAndGlyphs">0.2</text>
<text x="19.2" y="333.17" font-size="9.8" text-anchor="end" class="yt" textLength="12.8" lengthAdjust="spacingAndGlyphs">0.3</text>
<text x="19.2" y="323.96" font-size="9.8" text-anchor="end" class="yt" textLength="12.8" lengthAdjust="spacingAndGlyphs">0.4</text>
<text x="19.2" y="314.74" font-size="9.8" text-anchor="end" class="yt" textLength="12.8" lengthAdjust="spacingAndGlyphs">0.5</text>
<text x="19.2" y="305.53" font-size="9.8" text-anchor="end" class="yt" textLength="12.8" lengthAdjust="spacingAndGlyphs">0.6</text>
<text x="19.2" y="296.32" font-size="9.8" text-anchor="end" class="yt" textLength="12.8" lengthAdjust="spacingAndGlyphs">0.7</text>
<text x="19.2" y="287.1" font-size="9.8" text-anchor="end" class="yt" textLength="12.8" lengthAdjust="spacingAndGlyphs">0.8</text>
<text x="19.2" y="277.89" font-size="9.8" text-anchor="end" class="yt" textLength="12.8" lengthAdjust="spacingAndGlyphs">0.9</text>
<text transform="translate(5 313.83) rotate(-90)" font-size="6.9" text-anchor="middle" class="yl">Layer-wise alignment accuracy</text>
<rect x="20.7" y="270.35" width="328.65" height="86.95" fill="none" stroke="#000" stroke-width="1.15"/>
<text x="51.7" y="365.2" font-size="9" text-anchor="middle">0</text>
<text x="96.1" y="365.2" font-size="9" text-anchor="middle">1</text>
<text x="140.5" y="365.2" font-size="9" text-anchor="middle">2</text>
<text x="184.9" y="365.2" font-size="9" text-anchor="middle">3</text>
<text x="229.3" y="365.2" font-size="9" text-anchor="middle">4</text>
<text x="273.7" y="365.2" font-size="9" text-anchor="middle">5</text>
<text x="318.1" y="365.2" font-size="9" text-anchor="middle">6</text>
<text x="185.02" y="374.5" font-size="9.6" text-anchor="middle" class="xl">Layer shift</text>
<text x="185.02" y="267.35" font-size="12" text-anchor="middle">DLPFC 151670-151671</text>
<rect x="296.95" y="273.15" width="49.4" height="76.7" rx="1" fill="#fff" fill-opacity="0.8" stroke="#d6d6d6" stroke-width="0.7"/>
<rect x="299.35" y="276" width="12.4" height="4.1" fill="#adadad"/>
<text x="316.25" y="280.05" font-size="5.8" text-anchor="start" class="lg">SPACEL</text>
<rect x="299.35" y="284.37" width="12.4" height="4.1" fill="#808000"/>
<text x="316.25" y="288.42" font-size="5.8" text-anchor="start" class="lg">STAligner</text>
<rect x="299.35" y="292.74" width="12.4" height="4.1" fill="#808080"/>
<text x="316.25" y="296.79" font-size="5.8" text-anchor="start" class="lg">SPIRAL</text>
<rect x="299.35" y="301.11" width="12.4" height="4.1" fill="#fffacd"/>
<text x="316.25" y="305.16" font-size="5.8" text-anchor="start" class="lg">STalign</text>
<rect x="299.35" y="309.48" width="12.4" height="4.1" fill="#4169e1"/>
<text x="316.25" y="313.53" font-size="5.8" text-anchor="start" class="lg">DeepST</text>
<rect x="299.35" y="317.85" width="12.4" height="4.1" fill="#a0662c"/>
<text x="316.25" y="321.9" font-size="5.8" text-anchor="start" class="lg">PRECAST</text>
<rect x="299.35" y="326.22" width="12.4" height="4.1" fill="#ffd9b5"/>
<text x="316.25" y="330.27" font-size="5.8" text-anchor="start" class="lg">PASTE</text>
<rect x="299.35" y="334.59" width="12.4" height="4.1" fill="#4f9d98"/>
<text x="316.25" y="338.64" font-size="5.8" text-anchor="start" class="lg">GPSA</text>
<rect x="299.35" y="342.96" width="12.4" height="4.1" fill="#000080"/>
<text x="316.25" y="347.01" font-size="5.8" text-anchor="start" class="lg">PASTE2</text>
<rect x="391.02" y="275.07" width="4.49" height="82.23" fill="#adadad"/>
<rect x="395.46" y="278.62" width="4.49" height="78.68" fill="#ffd9b5"/>
<rect x="399.9" y="281.16" width="4.49" height="76.14" fill="#808080"/>
<rect x="404.34" y="281.16" width="4.49" height="76.14" fill="#4169e1"/>
<rect x="408.78" y="281.16" width="4.49" height="76.14" fill="#808000"/>
<rect x="413.22" y="282.93" width="4.49" height="74.37" fill="#a0662c"/>
<rect x="417.66" y="296.39" width="4.49" height="60.91" fill="#fffacd"/>
<rect x="422.1" y="298.67" width="4.49" height="58.63" fill="#4f9d98"/>
<rect x="426.54" y="304.25" width="4.49" height="53.05" fill="#000080"/>
<rect x="435.42" y="351.97" width="4.49" height="5.33" fill="#adadad"/>
<rect x="439.86" y="348.16" width="4.49" height="9.14" fill="#ffd9b5"/>
<rect x="444.3" y="345.37" width="4.49" height="11.93" fill="#808080"/>
<rect x="448.74" y="345.37" width="4.49" height="11.93" fill="#4169e1"/>
<rect x="453.18" y="345.37" width="4.49" height="11.93" fill="#808000"/>
<rect x="457.62" y="344.86" width="4.49" height="12.44" fill="#a0662c"/>
<rect x="462.06" y="335.73" width="4.49" height="21.57" fill="#fffacd"/>
<rect x="466.5" y="337.5" width="4.49" height="19.8" fill="#4f9d98"/>
<rect x="470.94" y="338.01" width="4.49" height="19.29" fill="#000080"/>
<rect x="479.82" y="356.79" width="4.49" height="0.51" fill="#adadad"/>
<rect x="484.26" y="355.78" width="4.49" height="1.52" fill="#ffd9b5"/>
<rect x="488.7" y="356.54" width="4.49" height="0.76" fill="#808080"/>
<rect x="493.14" y="356.28" width="4.49" height="1.02" fill="#4169e1"/>
<rect x="497.58" y="356.28" width="4.49" height="1.02" fill="#808000"/>
<rect x="502.02" y="355.52" width="4.49" height="1.78" fill="#a0662c"/>
<rect x="506.46" y="353.49" width="4.49" height="3.81" fill="#fffacd"/>
<rect x="510.9" y="350.19" width="4.49" height="7.11" fill="#4f9d98"/>
<rect x="515.34" y="348.42" width="4.49" height="8.88" fill="#000080"/>
<rect x="648.54" y="348.92" width="4.49" height="8.38" fill="#000080"/>
<rect x="657.42" y="355.52" width="4.49" height="1.78" fill="#adadad"/>
<rect x="666.3" y="356.03" width="4.49" height="1.27" fill="#808080"/>
<rect x="670.74" y="356.03" width="4.49" height="1.27" fill="#4169e1"/>
<rect x="675.18" y="356.28" width="4.49" height="1.02" fill="#808000"/>
<rect x="679.62" y="355.52" width="4.49" height="1.78" fill="#a0662c"/>
<rect x="684.06" y="354.76" width="4.49" height="2.54" fill="#fffacd"/>
<rect x="688.5" y="352.48" width="4.49" height="4.82" fill="#4f9d98"/>
<text x="378.5" y="360.81" font-size="9.8" text-anchor="end" class="yt" textLength="12.8" lengthAdjust="spacingAndGlyphs">0.0</text>
<text x="378.5" y="351.72" font-size="9.8" text-anchor="end" class="yt" textLength="12.8" lengthAdjust="spacingAndGlyphs">0.1</text>
<text x="378.5" y="342.64" font-size="9.8" text-anchor="end" class="yt" textLength="12.8" lengthAdjust="spacingAndGlyphs">0.2</text>
<text x="378.5" y="333.55" font-size="9.8" text-anchor="end" class="yt" textLength="12.8" lengthAdjust="spacingAndGlyphs">0.3</text>
<text x="378.5" y="324.46" font-size="9.8" text-anchor="end" class="yt" textLength="12.8" lengthAdjust="spacingAndGlyphs">0.4</text>
<text x="378.5" y="315.38" font-size="9.8" text-anchor="end" class="yt" textLength="12.8" lengthAdjust="spacingAndGlyphs">0.5</text>
<text x="378.5" y="306.29" font-size="9.8" text-anchor="end" class="yt" textLength="12.8" lengthAdjust="spacingAndGlyphs">0.6</text>
<text x="378.5" y="297.2" font-size="9.8" text-anchor="end" class="yt" textLength="12.8" lengthAdjust="spacingAndGlyphs">0.7</text>
<text x="378.5" y="288.12" font-size="9.8" text-anchor="end" class="yt" textLength="12.8" lengthAdjust="spacingAndGlyphs">0.8</text>
<text x="378.5" y="279.03" font-size="9.8" text-anchor="end" class="yt" textLength="12.8" lengthAdjust="spacingAndGlyphs">0.9</text>
<text transform="translate(364.3 313.83) rotate(-90)" font-size="6.9" text-anchor="middle" class="yl">Layer-wise alignment accuracy</text>
<rect x="380" y="270.35" width="328.65" height="86.95" fill="none" stroke="#000" stroke-width="1.15"/>
<text x="411" y="365.2" font-size="9" text-anchor="middle">0</text>
<text x="455.4" y="365.2" font-size="9" text-anchor="middle">1</text>
<text x="499.8" y="365.2" font-size="9" text-anchor="middle">2</text>
<text x="544.2" y="365.2" font-size="9" text-anchor="middle">3</text>
<text x="588.6" y="365.2" font-size="9" text-anchor="middle">4</text>
<text x="633" y="365.2" font-size="9" text-anchor="middle">5</text>
<text x="677.4" y="365.2" font-size="9" text-anchor="middle">6</text>
<text x="544.33" y="374.5" font-size="9.6" text-anchor="middle" class="xl">Layer shift</text>
<text x="544.33" y="267.35" font-size="12" text-anchor="middle">DLPFC 151671-151672</text>
<rect x="656.25" y="273.15" width="49.4" height="76.7" rx="1" fill="#fff" fill-opacity="0.8" stroke="#d6d6d6" stroke-width="0.7"/>
<rect x="658.65" y="276" width="12.4" height="4.1" fill="#adadad"/>
<text x="675.55" y="280.05" font-size="5.8" text-anchor="start" class="lg">SPACEL</text>
<rect x="658.65" y="284.37" width="12.4" height="4.1" fill="#ffd9b5"/>
<text x="675.55" y="288.42" font-size="5.8" text-anchor="start" class="lg">PASTE</text>
<rect x="658.65" y="292.74" width="12.4" height="4.1" fill="#808080"/>
<text x="675.55" y="296.79" font-size="5.8" text-anchor="start" class="lg">SPIRAL</text>
<rect x="658.65" y="301.11" width="12.4" height="4.1" fill="#4169e1"/>
<text x="675.55" y="305.16" font-size="5.8" text-anchor="start" class="lg">DeepST</text>
<rect x="658.65" y="309.48" width="12.4" height="4.1" fill="#808000"/>
<text x="675.55" y="313.53" font-size="5.8" text-anchor="start" class="lg">STAligner</text>
<rect x="658.65" y="317.85" width="12.4" height="4.1" fill="#a0662c"/>
<text x="675.55" y="321.9" font-size="5.8" text-anchor="start" class="lg">PRECAST</text>
<rect x="658.65" y="326.22" width="12.4" height="4.1" fill="#fffacd"/>
<text x="675.55" y="330.27" font-size="5.8" text-anchor="start" class="lg">STalign</text>
<rect x="658.65" y="334.59" width="12.4" height="4.1" fill="#4f9d98"/>
<text x="675.55" y="338.64" font-size="5.8" text-anchor="start" class="lg">GPSA</text>
<rect x="658.65" y="342.96" width="12.4" height="4.1" fill="#000080"/>
<text x="675.55" y="347.01" font-size="5.8" text-anchor="start" class="lg">PASTE2</text>
<rect x="31.72" y="396.56" width="4.49" height="82.74" fill="#adadad"/>
<rect x="36.16" y="400.11" width="4.49" height="79.19" fill="#ffd9b5"/>
<rect x="40.6" y="405.7" width="4.49" height="73.6" fill="#808000"/>
<rect x="45.04" y="406.2" width="4.49" height="73.1" fill="#4169e1"/>
<rect x="49.48" y="406.96" width="4.49" height="72.34" fill="#fffacd"/>
<rect x="53.92" y="412.04" width="4.49" height="67.26" fill="#a0662c"/>
<rect x="58.36" y="413.56" width="4.49" height="65.74" fill="#808080"/>
<rect x="62.8" y="418.39" width="4.49" height="60.91" fill="#4f9d98"/>
<rect x="67.24" y="453.41" width="4.49" height="25.89" fill="#000080"/>
<rect x="76.12" y="472.95" width="4.49" height="6.35" fill="#adadad"/>
<rect x="80.56" y="469.91" width="4.49" height="9.39" fill="#ffd9b5"/>
<rect x="85" y="466.86" width="4.49" height="12.44" fill="#808000"/>
<rect x="89.44" y="465.09" width="4.49" height="14.21" fill="#4169e1"/>
<rect x="93.88" y="463.06" width="4.49" height="16.24" fill="#fffacd"/>
<rect x="98.32" y="460.26" width="4.49" height="19.04" fill="#a0662c"/>
<rect x="102.76" y="464.33" width="4.49" height="14.97" fill="#808080"/>
<rect x="107.2" y="457.98" width="4.49" height="21.32" fill="#4f9d98"/>
<rect x="111.64" y="466.36" width="4.49" height="12.94" fill="#000080"/>
<rect x="129.4" y="478.28" width="4.49" height="1.02" fill="#808000"/>
<rect x="133.84" y="479.05" width="4.49" height="0.25" fill="#4169e1"/>
<rect x="142.72" y="478.28" width="4.49" height="1.02" fill="#a0662c"/>
<rect x="147.16" y="476.51" width="4.49" height="2.79" fill="#808080"/>
<rect x="151.6" y="474.22" width="4.49" height="5.08" fill="#4f9d98"/>
<rect x="156.04" y="456.96" width="4.49" height="22.34" fill="#000080"/>
<rect x="200.44" y="449.35" width="4.49" height="29.95" fill="#000080"/>
<rect x="298.12" y="477.02" width="4.49" height="2.28" fill="#adadad"/>
<rect x="302.56" y="476.76" width="4.49" height="2.54" fill="#ffd9b5"/>
<rect x="307" y="475.49" width="4.49" height="3.81" fill="#808000"/>
<rect x="311.44" y="476" width="4.49" height="3.3" fill="#4169e1"/>
<rect x="315.88" y="478.28" width="4.49" height="1.02" fill="#fffacd"/>
<rect x="320.32" y="476.25" width="4.49" height="3.05" fill="#a0662c"/>
<rect x="324.76" y="472.7" width="4.49" height="6.6" fill="#808080"/>
<rect x="329.2" y="476.25" width="4.49" height="3.05" fill="#4f9d98"/>
<text x="19.2" y="482.81" font-size="9.8" text-anchor="end" class="yt" textLength="12.8" lengthAdjust="spacingAndGlyphs">0.0</text>
<text x="19.2" y="473.67" font-size="9.8" text-anchor="end" class="yt" textLength="12.8" lengthAdjust="spacingAndGlyphs">0.1</text>
<text x="19.2" y="464.53" font-size="9.8" text-anchor="end" class="yt" textLength="12.8" lengthAdjust="spacingAndGlyphs">0.2</text>
<text x="19.2" y="455.4" font-size="9.8" text-anchor="end" class="yt" textLength="12.8" lengthAdjust="spacingAndGlyphs">0.3</text>
<text x="19.2" y="446.26" font-size="9.8" text-anchor="end" class="yt" textLength="12.8" lengthAdjust="spacingAndGlyphs">0.4</text>
<text x="19.2" y="437.12" font-size="9.8" text-anchor="end" class="yt" textLength="12.8" lengthAdjust="spacingAndGlyphs">0.5</text>
<text x="19.2" y="427.99" font-size="9.8" text-anchor="end" class="yt" textLength="12.8" lengthAdjust="spacingAndGlyphs">0.6</text>
<text x="19.2" y="418.85" font-size="9.8" text-anchor="end" class="yt" textLength="12.8" lengthAdjust="spacingAndGlyphs">0.7</text>
<text x="19.2" y="409.71" font-size="9.8" text-anchor="end" class="yt" textLength="12.8" lengthAdjust="spacingAndGlyphs">0.8</text>
<text x="19.2" y="400.57" font-size="9.8" text-anchor="end" class="yt" textLength="12.8" lengthAdjust="spacingAndGlyphs">0.9</text>
<text transform="translate(5 435.83) rotate(-90)" font-size="6.9" text-anchor="middle" class="yl">Layer-wise alignment accuracy</text>
<rect x="20.7" y="392.35" width="328.65" height="86.95" fill="none" stroke="#000" stroke-width="1.15"/>
<text x="51.7" y="487.2" font-size="9" text-anchor="middle">0</text>
<text x="96.1" y="487.2" font-size="9" text-anchor="middle">1</text>
<text x="140.5" y="487.2" font-size="9" text-anchor="middle">2</text>
<text x="184.9" y="487.2" font-size="9" text-anchor="middle">3</text>
<text x="229.3" y="487.2" font-size="9" text-anchor="middle">4</text>
<text x="273.7" y="487.2" font-size="9" text-anchor="middle">5</text>
<text x="318.1" y="487.2" font-size="9" text-anchor="middle">6</text>
<text x="185.02" y="496.5" font-size="9.6" text-anchor="middle" class="xl">Layer shift</text>
<text x="185.02" y="389.35" font-size="12" text-anchor="middle">DLPFC 151673-151674</text>
<rect x="296.95" y="395.15" width="49.4" height="76.7" rx="1" fill="#fff" fill-opacity="0.8" stroke="#d6d6d6" stroke-width="0.7"/>
<rect x="299.35" y="398" width="12.4" height="4.1" fill="#adadad"/>
<text x="316.25" y="402.05" font-size="5.8" text-anchor="start" class="lg">SPACEL</text>
<rect x="299.35" y="406.37" width="12.4" height="4.1" fill="#ffd9b5"/>
<text x="316.25" y="410.42" font-size="5.8" text-anchor="start" class="lg">PASTE</text>
<rect x="299.35" y="414.74" width="12.4" height="4.1" fill="#808000"/>
<text x="316.25" y="418.79" font-size="5.8" text-anchor="start" class="lg">STAligner</text>
<rect x="299.35" y="423.11" width="12.4" height="4.1" fill="#4169e1"/>
<text x="316.25" y="427.16" font-size="5.8" text-anchor="start" class="lg">DeepST</text>
<rect x="299.35" y="431.48" width="12.4" height="4.1" fill="#fffacd"/>
<text x="316.25" y="435.53" font-size="5.8" text-anchor="start" class="lg">STalign</text>
<rect x="299.35" y="439.85" width="12.4" height="4.1" fill="#a0662c"/>
<text x="316.25" y="443.9" font-size="5.8" text-anchor="start" class="lg">PRECAST</text>
<rect x="299.35" y="448.22" width="12.4" height="4.1" fill="#808080"/>
<text x="316.25" y="452.27" font-size="5.8" text-anchor="start" class="lg">SPIRAL</text>
<rect x="299.35" y="456.59" width="12.4" height="4.1" fill="#4f9d98"/>
<text x="316.25" y="460.64" font-size="5.8" text-anchor="start" class="lg">GPSA</text>
<rect x="299.35" y="464.96" width="12.4" height="4.1" fill="#000080"/>
<text x="316.25" y="469.01" font-size="5.8" text-anchor="start" class="lg">PASTE2</text>
<rect x="391.02" y="396.56" width="4.49" height="82.74" fill="#adadad"/>
<rect x="395.46" y="399.6" width="4.49" height="79.7" fill="#ffd9b5"/>
<rect x="399.9" y="405.95" width="4.49" height="73.35" fill="#808000"/>
<rect x="404.34" y="407.22" width="4.49" height="72.08" fill="#4169e1"/>
<rect x="408.78" y="410.26" width="4.49" height="69.04" fill="#a0662c"/>
<rect x="413.22" y="410.52" width="4.49" height="68.78" fill="#808080"/>
<rect x="417.66" y="411.03" width="4.49" height="68.27" fill="#4f9d98"/>
<rect x="422.1" y="412.04" width="4.49" height="67.26" fill="#fffacd"/>
<rect x="426.54" y="457.98" width="4.49" height="21.32" fill="#000080"/>
<rect x="435.42" y="467.88" width="4.49" height="11.42" fill="#adadad"/>
<rect x="439.86" y="464.83" width="4.49" height="14.47" fill="#ffd9b5"/>
<rect x="444.3" y="462.04" width="4.49" height="17.26" fill="#808000"/>
<rect x="448.74" y="460.77" width="4.49" height="18.53" fill="#4169e1"/>
<rect x="453.18" y="458.49" width="4.49" height="20.81" fill="#a0662c"/>
<rect x="457.62" y="458.49" width="4.49" height="20.81" fill="#808080"/>
<rect x="462.06" y="458.49" width="4.49" height="20.81" fill="#4f9d98"/>
<rect x="466.5" y="457.98" width="4.49" height="21.32" fill="#fffacd"/>
<rect x="470.94" y="451.89" width="4.49" height="27.41" fill="#000080"/>
<rect x="488.7" y="476.25" width="4.49" height="3.05" fill="#808000"/>
<rect x="493.14" y="475.75" width="4.49" height="3.55" fill="#4169e1"/>
<rect x="497.58" y="476.76" width="4.49" height="2.54" fill="#a0662c"/>
<rect x="502.02" y="476.25" width="4.49" height="3.05" fill="#808080"/>
<rect x="506.46" y="477.02" width="4.49" height="2.28" fill="#4f9d98"/>
<rect x="510.9" y="479.05" width="4.49" height="0.25" fill="#fffacd"/>
<rect x="515.34" y="464.33" width="4.49" height="14.97" fill="#000080"/>
<rect x="559.74" y="475.24" width="4.49" height="4.06" fill="#000080"/>
<rect x="604.14" y="466.86" width="4.49" height="12.44" fill="#000080"/>
<rect x="630.78" y="478.54" width="4.49" height="0.76" fill="#a0662c"/>
<rect x="648.54" y="463.56" width="4.49" height="15.74" fill="#000080"/>
<rect x="657.42" y="477.52" width="4.49" height="1.78" fill="#adadad"/>
<rect x="661.86" y="479.05" width="4.49" height="0.25" fill="#ffd9b5"/>
<rect x="666.3" y="477.52" width="4.49" height="1.78" fill="#808000"/>
<rect x="670.74" y="477.27" width="4.49" height="2.03" fill="#4169e1"/>
<rect x="675.18" y="476.76" width="4.49" height="2.54" fill="#a0662c"/>
<rect x="679.62" y="476.51" width="4.49" height="2.79" fill="#808080"/>
<rect x="684.06" y="475.49" width="4.49" height="3.81" fill="#4f9d98"/>
<rect x="688.5" y="475.75" width="4.49" height="3.55" fill="#fffacd"/>
<text x="378.5" y="482.81" font-size="9.8" text-anchor="end" class="yt" textLength="12.8" lengthAdjust="spacingAndGlyphs">0.0</text>
<text x="378.5" y="473.19" font-size="9.8" text-anchor="end" class="yt" textLength="12.8" lengthAdjust="spacingAndGlyphs">0.1</text>
<text x="378.5" y="463.57" font-size="9.8" text-anchor="end" class="yt" textLength="12.8" lengthAdjust="spacingAndGlyphs">0.2</text>
<text x="378.5" y="453.95" font-size="9.8" text-anchor="end" class="yt" textLength="12.8" lengthAdjust="spacingAndGlyphs">0.3</text>
<text x="378.5" y="444.33" font-size="9.8" text-anchor="end" class="yt" textLength="12.8" lengthAdjust="spacingAndGlyphs">0.4</text>
<text x="378.5" y="434.71" font-size="9.8" text-anchor="end" class="yt" textLength="12.8" lengthAdjust="spacingAndGlyphs">0.5</text>
<text x="378.5" y="425.09" font-size="9.8" text-anchor="end" class="yt" textLength="12.8" lengthAdjust="spacingAndGlyphs">0.6</text>
<text x="378.5" y="415.47" font-size="9.8" text-anchor="end" class="yt" textLength="12.8" lengthAdjust="spacingAndGlyphs">0.7</text>
<text x="378.5" y="405.85" font-size="9.8" text-anchor="end" class="yt" textLength="12.8" lengthAdjust="spacingAndGlyphs">0.8</text>
<text x="378.5" y="396.23" font-size="9.8" text-anchor="end" class="yt" textLength="12.8" lengthAdjust="spacingAndGlyphs">0.9</text>
<text transform="translate(364.3 435.83) rotate(-90)" font-size="6.9" text-anchor="middle" class="yl">Layer-wise alignment accuracy</text>
<rect x="380" y="392.35" width="328.65" height="86.95" fill="none" stroke="#000" stroke-width="1.15"/>
<text x="411" y="487.2" font-size="9" text-anchor="middle">0</text>
<text x="455.4" y="487.2" font-size="9" text-anchor="middle">1</text>
<text x="499.8" y="487.2" font-size="9" text-anchor="middle">2</text>
<text x="544.2" y="487.2" font-size="9" text-anchor="middle">3</text>
<text x="588.6" y="487.2" font-size="9" text-anchor="middle">4</text>
<text x="633" y="487.2" font-size="9" text-anchor="middle">5</text>
<text x="677.4" y="487.2" font-size="9" text-anchor="middle">6</text>
<text x="544.33" y="496.5" font-size="9.6" text-anchor="middle" class="xl">Layer shift</text>
<text x="544.33" y="389.35" font-size="12" text-anchor="middle">DLPFC 151674-151675</text>
<rect x="656.25" y="395.15" width="49.4" height="76.7" rx="1" fill="#fff" fill-opacity="0.8" stroke="#d6d6d6" stroke-width="0.7"/>
<rect x="658.65" y="398" width="12.4" height="4.1" fill="#adadad"/>
<text x="675.55" y="402.05" font-size="5.8" text-anchor="start" class="lg">SPACEL</text>
<rect x="658.65" y="406.37" width="12.4" height="4.1" fill="#ffd9b5"/>
<text x="675.55" y="410.42" font-size="5.8" text-anchor="start" class="lg">PASTE</text>
<rect x="658.65" y="414.74" width="12.4" height="4.1" fill="#808000"/>
<text x="675.55" y="418.79" font-size="5.8" text-anchor="start" class="lg">STAligner</text>
<rect x="658.65" y="423.11" width="12.4" height="4.1" fill="#4169e1"/>
<text x="675.55" y="427.16" font-size="5.8" text-anchor="start" class="lg">DeepST</text>
<rect x="658.65" y="431.48" width="12.4" height="4.1" fill="#a0662c"/>
<text x="675.55" y="435.53" font-size="5.8" text-anchor="start" class="lg">PRECAST</text>
<rect x="658.65" y="439.85" width="12.4" height="4.1" fill="#808080"/>
<text x="675.55" y="443.9" font-size="5.8" text-anchor="start" class="lg">SPIRAL</text>
<rect x="658.65" y="448.22" width="12.4" height="4.1" fill="#4f9d98"/>
<text x="675.55" y="452.27" font-size="5.8" text-anchor="start" class="lg">GPSA</text>
<rect x="658.65" y="456.59" width="12.4" height="4.1" fill="#fffacd"/>
<text x="675.55" y="460.64" font-size="5.8" text-anchor="start" class="lg">STalign</text>
<rect x="658.65" y="464.96" width="12.4" height="4.1" fill="#000080"/>
<text x="675.55" y="469.01" font-size="5.8" text-anchor="start" class="lg">PASTE2</text>
<rect x="198.52" y="518.61" width="4.49" height="82.49" fill="#adadad"/>
<rect x="202.96" y="521.4" width="4.49" height="79.7" fill="#ffd9b5"/>
<rect x="207.4" y="523.18" width="4.49" height="77.92" fill="#808000"/>
<rect x="211.84" y="525.72" width="4.49" height="75.38" fill="#4169e1"/>
<rect x="216.28" y="526.73" width="4.49" height="74.37" fill="#fffacd"/>
<rect x="220.72" y="531.05" width="4.49" height="70.05" fill="#808080"/>
<rect x="225.16" y="537.65" width="4.49" height="63.45" fill="#000080"/>
<rect x="229.6" y="538.92" width="4.49" height="62.18" fill="#a0662c"/>
<rect x="234.04" y="546.28" width="4.49" height="54.82" fill="#4f9d98"/>
<rect x="242.92" y="591.2" width="4.49" height="9.9" fill="#adadad"/>
<rect x="247.36" y="588.16" width="4.49" height="12.94" fill="#ffd9b5"/>
<rect x="251.8" y="586.63" width="4.49" height="14.47" fill="#808000"/>
<rect x="256.24" y="584.35" width="4.49" height="16.75" fill="#4169e1"/>
<rect x="260.68" y="584.09" width="4.49" height="17.01" fill="#fffacd"/>
<rect x="265.12" y="582.06" width="4.49" height="19.04" fill="#808080"/>
<rect x="269.56" y="577.24" width="4.49" height="23.86" fill="#000080"/>
<rect x="274" y="579.53" width="4.49" height="21.57" fill="#a0662c"/>
<rect x="278.44" y="580.8" width="4.49" height="20.3" fill="#4f9d98"/>
<rect x="287.32" y="599.58" width="4.49" height="1.52" fill="#adadad"/>
<rect x="291.76" y="600.85" width="4.49" height="0.25" fill="#ffd9b5"/>
<rect x="296.2" y="600.34" width="4.49" height="0.76" fill="#808000"/>
<rect x="300.64" y="600.85" width="4.49" height="0.25" fill="#4169e1"/>
<rect x="305.08" y="599.83" width="4.49" height="1.27" fill="#fffacd"/>
<rect x="309.52" y="598.82" width="4.49" height="2.28" fill="#808080"/>
<rect x="313.96" y="596.79" width="4.49" height="4.31" fill="#000080"/>
<rect x="318.4" y="593.49" width="4.49" height="7.61" fill="#a0662c"/>
<rect x="322.84" y="592.22" width="4.49" height="8.88" fill="#4f9d98"/>
<rect x="362.8" y="599.83" width="4.49" height="1.27" fill="#a0662c"/>
<rect x="367.24" y="600.34" width="4.49" height="0.76" fill="#4f9d98"/>
<rect x="464.92" y="599.58" width="4.49" height="1.52" fill="#adadad"/>
<rect x="469.36" y="599.07" width="4.49" height="2.03" fill="#ffd9b5"/>
<rect x="473.8" y="599.32" width="4.49" height="1.78" fill="#808000"/>
<rect x="478.24" y="598.82" width="4.49" height="2.28" fill="#4169e1"/>
<rect x="482.68" y="598.56" width="4.49" height="2.54" fill="#fffacd"/>
<rect x="487.12" y="598.31" width="4.49" height="2.79" fill="#808080"/>
<rect x="491.56" y="597.8" width="4.49" height="3.3" fill="#000080"/>
<rect x="496" y="598.56" width="4.49" height="2.54" fill="#a0662c"/>
<rect x="500.44" y="590.69" width="4.49" height="10.41" fill="#4f9d98"/>
<text x="186" y="604.61" font-size="9.8" text-anchor="end" class="yt" textLength="12.8" lengthAdjust="spacingAndGlyphs">0.0</text>
<text x="186" y="594.99" font-size="9.8" text-anchor="end" class="yt" textLength="12.8" lengthAdjust="spacingAndGlyphs">0.1</text>
<text x="186" y="585.37" font-size="9.8" text-anchor="end" class="yt" textLength="12.8" lengthAdjust="spacingAndGlyphs">0.2</text>
<text x="186" y="575.75" font-size="9.8" text-anchor="end" class="yt" textLength="12.8" lengthAdjust="spacingAndGlyphs">0.3</text>
<text x="186" y="566.13" font-size="9.8" text-anchor="end" class="yt" textLength="12.8" lengthAdjust="spacingAndGlyphs">0.4</text>
<text x="186" y="556.51" font-size="9.8" text-anchor="end" class="yt" textLength="12.8" lengthAdjust="spacingAndGlyphs">0.5</text>
<text x="186" y="546.89" font-size="9.8" text-anchor="end" class="yt" textLength="12.8" lengthAdjust="spacingAndGlyphs">0.6</text>
<text x="186" y="537.27" font-size="9.8" text-anchor="end" class="yt" textLength="12.8" lengthAdjust="spacingAndGlyphs">0.7</text>
<text x="186" y="527.65" font-size="9.8" text-anchor="end" class="yt" textLength="12.8" lengthAdjust="spacingAndGlyphs">0.8</text>
<text x="186" y="518.03" font-size="9.8" text-anchor="end" class="yt" textLength="12.8" lengthAdjust="spacingAndGlyphs">0.9</text>
<text transform="translate(171.8 557.62) rotate(-90)" font-size="6.9" text-anchor="middle" class="yl">Layer-wise alignment accuracy</text>
<rect x="187.5" y="514.15" width="328.65" height="86.95" fill="none" stroke="#000" stroke-width="1.15"/>
<text x="218.5" y="609" font-size="9" text-anchor="middle">0</text>
<text x="262.9" y="609" font-size="9" text-anchor="middle">1</text>
<text x="307.3" y="609" font-size="9" text-anchor="middle">2</text>
<text x="351.7" y="609" font-size="9" text-anchor="middle">3</text>
<text x="396.1" y="609" font-size="9" text-anchor="middle">4</text>
<text x="440.5" y="609" font-size="9" text-anchor="middle">5</text>
<text x="484.9" y="609" font-size="9" text-anchor="middle">6</text>
<text x="351.82" y="618.3" font-size="9.6" text-anchor="middle" class="xl">Layer shift</text>
<text x="351.82" y="511.15" font-size="12" text-anchor="middle">DLPFC 151675-151676</text>
<rect x="463.75" y="516.95" width="49.4" height="76.7" rx="1" fill="#fff" fill-opacity="0.8" stroke="#d6d6d6" stroke-width="0.7"/>
<rect x="466.15" y="519.8" width="12.4" height="4.1" fill="#adadad"/>
<text x="483.05" y="523.85" font-size="5.8" text-anchor="start" class="lg">SPACEL</text>
<rect x="466.15" y="528.17" width="12.4" height="4.1" fill="#ffd9b5"/>
<text x="483.05" y="532.22" font-size="5.8" text-anchor="start" class="lg">PASTE</text>
<rect x="466.15" y="536.54" width="12.4" height="4.1" fill="#808000"/>
<text x="483.05" y="540.59" font-size="5.8" text-anchor="start" class="lg">STAligner</text>
<rect x="466.15" y="544.91" width="12.4" height="4.1" fill="#4169e1"/>
<text x="483.05" y="548.96" font-size="5.8" text-anchor="start" class="lg">DeepST</text>
<rect x="466.15" y="553.28" width="12.4" height="4.1" fill="#fffacd"/>
<text x="483.05" y="557.33" font-size="5.8" text-anchor="start" class="lg">STalign</text>
<rect x="466.15" y="561.65" width="12.4" height="4.1" fill="#808080"/>
<text x="483.05" y="565.7" font-size="5.8" text-anchor="start" class="lg">SPIRAL</text>
<rect x="466.15" y="570.02" width="12.4" height="4.1" fill="#000080"/>
<text x="483.05" y="574.07" font-size="5.8" text-anchor="start" class="lg">PASTE2</text>
<rect x="466.15" y="578.39" width="12.4" height="4.1" fill="#a0662c"/>
<text x="483.05" y="582.44" font-size="5.8" text-anchor="start" class="lg">PRECAST</text>
<rect x="466.15" y="586.76" width="12.4" height="4.1" fill="#4f9d98"/>
<text x="483.05" y="590.81" font-size="5.8" text-anchor="start" class="lg">GPSA</text>
<rect x="103" y="712.21" width="4.05" height="72.59" fill="#c0c1c0"/>
<rect x="107" y="716.02" width="4.05" height="68.78" fill="#fffad7"/>
<rect x="111" y="719.83" width="4.05" height="64.97" fill="#ffdfc2"/>
<rect x="115" y="723.38" width="4.05" height="61.42" fill="#292775"/>
<rect x="119" y="725.66" width="4.05" height="59.14" fill="#8d8c36"/>
<rect x="123" y="726.68" width="4.05" height="58.12" fill="#5a6bc0"/>
<rect x="127" y="737.34" width="4.05" height="47.46" fill="#a0a0a0"/>
<rect x="131" y="758.15" width="4.05" height="26.65" fill="#aa6620"/>
<text x="92.7" y="787.52" font-size="7.6" text-anchor="end" class="yt" textLength="9.93" lengthAdjust="spacingAndGlyphs">0.0</text>
<text x="92.7" y="777.88" font-size="7.6" text-anchor="end" class="yt" textLength="9.93" lengthAdjust="spacingAndGlyphs">0.1</text>
<text x="92.7" y="768.23" font-size="7.6" text-anchor="end" class="yt" textLength="9.93" lengthAdjust="spacingAndGlyphs">0.2</text>
<text x="92.7" y="758.59" font-size="7.6" text-anchor="end" class="yt" textLength="9.93" lengthAdjust="spacingAndGlyphs">0.3</text>
<text x="92.7" y="748.94" font-size="7.6" text-anchor="end" class="yt" textLength="9.93" lengthAdjust="spacingAndGlyphs">0.4</text>
<text x="92.7" y="739.3" font-size="7.6" text-anchor="end" class="yt" textLength="9.93" lengthAdjust="spacingAndGlyphs">0.5</text>
<text x="92.7" y="729.65" font-size="7.6" text-anchor="end" class="yt" textLength="9.93" lengthAdjust="spacingAndGlyphs">0.6</text>
<text x="92.7" y="720.01" font-size="7.6" text-anchor="end" class="yt" textLength="9.93" lengthAdjust="spacingAndGlyphs">0.7</text>
<text x="92.7" y="710.36" font-size="7.6" text-anchor="end" class="yt" textLength="9.93" lengthAdjust="spacingAndGlyphs">0.8</text>
<text x="92.7" y="700.72" font-size="7.6" text-anchor="end" class="yt" textLength="9.93" lengthAdjust="spacingAndGlyphs">0.9</text>
<text transform="translate(79.4 741.3) rotate(-90)" font-size="6.9" text-anchor="middle" class="yl">Layer-wise alignment accuracy</text>
<rect x="93.6" y="697.8" width="54.8" height="87" fill="none" stroke="#000" stroke-width="1.15"/>
<text x="121" y="792.7" font-size="9" text-anchor="middle">0</text>
<text x="121" y="802" font-size="9.6" text-anchor="middle" class="xl">Layer shift</text>
<text x="121" y="682" font-size="11.8" text-anchor="middle">MHypo Bregma</text>
<text x="121" y="694" font-size="11.8" text-anchor="middle" class="xl">-0.04 - -0.09</text>
<rect x="151.5" y="700.9" width="49.2" height="76.8" rx="1" fill="#fff" fill-opacity="0.8" stroke="#ececec" stroke-width="0.7"/>
<rect x="153.4" y="708.25" width="12.4" height="4.1" fill="#c0c1c0"/>
<text x="170" y="712.3" font-size="5.8" text-anchor="start" class="lg">SPACEL</text>
<rect x="153.4" y="716.62" width="12.4" height="4.1" fill="#fffad7"/>
<text x="170" y="720.67" font-size="5.8" text-anchor="start" class="lg">STalign</text>
<rect x="153.4" y="724.99" width="12.4" height="4.1" fill="#ffdfc2"/>
<text x="170" y="729.04" font-size="5.8" text-anchor="start" class="lg">PASTE</text>
<rect x="153.4" y="733.36" width="12.4" height="4.1" fill="#292775"/>
<text x="170" y="737.41" font-size="5.8" text-anchor="start" class="lg">PASTE2</text>
<rect x="153.4" y="741.73" width="12.4" height="4.1" fill="#8d8c36"/>
<text x="170" y="745.78" font-size="5.8" text-anchor="start" class="lg">STAligner</text>
<rect x="153.4" y="750.1" width="12.4" height="4.1" fill="#5a6bc0"/>
<text x="170" y="754.15" font-size="5.8" text-anchor="start" class="lg">DeepST</text>
<rect x="153.4" y="758.47" width="12.4" height="4.1" fill="#a0a0a0"/>
<text x="170" y="762.52" font-size="5.8" text-anchor="start" class="lg">SPIRAL</text>
<rect x="153.4" y="766.84" width="12.4" height="4.1" fill="#aa6620"/>
<text x="170" y="770.89" font-size="5.8" text-anchor="start" class="lg">PRECAST</text>
<rect x="247.1" y="713.23" width="4.05" height="71.57" fill="#c0c1c0"/>
<rect x="251.1" y="719.83" width="4.05" height="64.97" fill="#ffdfc2"/>
<rect x="255.1" y="722.11" width="4.05" height="62.69" fill="#8d8c36"/>
<rect x="259.1" y="724.39" width="4.05" height="60.41" fill="#292775"/>
<rect x="263.1" y="725.16" width="4.05" height="59.64" fill="#5a6bc0"/>
<rect x="267.1" y="725.16" width="4.05" height="59.64" fill="#fffad7"/>
<rect x="271.1" y="732.26" width="4.05" height="52.54" fill="#a0a0a0"/>
<rect x="275.1" y="755.87" width="4.05" height="28.93" fill="#aa6620"/>
<text x="236.8" y="787.52" font-size="7.6" text-anchor="end" class="yt" textLength="9.93" lengthAdjust="spacingAndGlyphs">0.0</text>
<text x="236.8" y="777.88" font-size="7.6" text-anchor="end" class="yt" textLength="9.93" lengthAdjust="spacingAndGlyphs">0.1</text>
<text x="236.8" y="768.23" font-size="7.6" text-anchor="end" class="yt" textLength="9.93" lengthAdjust="spacingAndGlyphs">0.2</text>
<text x="236.8" y="758.59" font-size="7.6" text-anchor="end" class="yt" textLength="9.93" lengthAdjust="spacingAndGlyphs">0.3</text>
<text x="236.8" y="748.94" font-size="7.6" text-anchor="end" class="yt" textLength="9.93" lengthAdjust="spacingAndGlyphs">0.4</text>
<text x="236.8" y="739.3" font-size="7.6" text-anchor="end" class="yt" textLength="9.93" lengthAdjust="spacingAndGlyphs">0.5</text>
<text x="236.8" y="729.65" font-size="7.6" text-anchor="end" class="yt" textLength="9.93" lengthAdjust="spacingAndGlyphs">0.6</text>
<text x="236.8" y="720.01" font-size="7.6" text-anchor="end" class="yt" textLength="9.93" lengthAdjust="spacingAndGlyphs">0.7</text>
<text x="236.8" y="710.36" font-size="7.6" text-anchor="end" class="yt" textLength="9.93" lengthAdjust="spacingAndGlyphs">0.8</text>
<text x="236.8" y="700.72" font-size="7.6" text-anchor="end" class="yt" textLength="9.93" lengthAdjust="spacingAndGlyphs">0.9</text>
<text transform="translate(223.5 741.3) rotate(-90)" font-size="6.9" text-anchor="middle" class="yl">Layer-wise alignment accuracy</text>
<rect x="237.7" y="697.8" width="54.8" height="87" fill="none" stroke="#000" stroke-width="1.15"/>
<text x="265.1" y="792.7" font-size="9" text-anchor="middle">0</text>
<text x="265.1" y="802" font-size="9.6" text-anchor="middle" class="xl">Layer shift</text>
<text x="265.1" y="682" font-size="11.8" text-anchor="middle">MHypo Bregma</text>
<text x="265.1" y="694" font-size="11.8" text-anchor="middle" class="xl">-0.09 - -0.14</text>
<rect x="295.6" y="700.9" width="49.2" height="76.8" rx="1" fill="#fff" fill-opacity="0.8" stroke="#ececec" stroke-width="0.7"/>
<rect x="297.5" y="708.25" width="12.4" height="4.1" fill="#c0c1c0"/>
<text x="314.1" y="712.3" font-size="5.8" text-anchor="start" class="lg">SPACEL</text>
<rect x="297.5" y="716.62" width="12.4" height="4.1" fill="#ffdfc2"/>
<text x="314.1" y="720.67" font-size="5.8" text-anchor="start" class="lg">PASTE</text>
<rect x="297.5" y="724.99" width="12.4" height="4.1" fill="#8d8c36"/>
<text x="314.1" y="729.04" font-size="5.8" text-anchor="start" class="lg">STAligner</text>
<rect x="297.5" y="733.36" width="12.4" height="4.1" fill="#292775"/>
<text x="314.1" y="737.41" font-size="5.8" text-anchor="start" class="lg">PASTE2</text>
<rect x="297.5" y="741.73" width="12.4" height="4.1" fill="#5a6bc0"/>
<text x="314.1" y="745.78" font-size="5.8" text-anchor="start" class="lg">DeepST</text>
<rect x="297.5" y="750.1" width="12.4" height="4.1" fill="#fffad7"/>
<text x="314.1" y="754.15" font-size="5.8" text-anchor="start" class="lg">STalign</text>
<rect x="297.5" y="758.47" width="12.4" height="4.1" fill="#a0a0a0"/>
<text x="314.1" y="762.52" font-size="5.8" text-anchor="start" class="lg">SPIRAL</text>
<rect x="297.5" y="766.84" width="12.4" height="4.1" fill="#aa6620"/>
<text x="314.1" y="770.89" font-size="5.8" text-anchor="start" class="lg">PRECAST</text>
<rect x="391.2" y="709.93" width="4.05" height="74.87" fill="#c0c1c0"/>
<rect x="395.2" y="715" width="4.05" height="69.8" fill="#fffad7"/>
<rect x="399.2" y="717.03" width="4.05" height="67.77" fill="#ffdfc2"/>
<rect x="403.2" y="723.89" width="4.05" height="60.91" fill="#8d8c36"/>
<rect x="407.2" y="724.39" width="4.05" height="60.41" fill="#5a6bc0"/>
<rect x="411.2" y="724.39" width="4.05" height="60.41" fill="#292775"/>
<rect x="415.2" y="734.8" width="4.05" height="50" fill="#a0a0a0"/>
<rect x="419.2" y="756.88" width="4.05" height="27.92" fill="#aa6620"/>
<text x="380.9" y="787.52" font-size="7.6" text-anchor="end" class="yt" textLength="9.93" lengthAdjust="spacingAndGlyphs">0.0</text>
<text x="380.9" y="777.88" font-size="7.6" text-anchor="end" class="yt" textLength="9.93" lengthAdjust="spacingAndGlyphs">0.1</text>
<text x="380.9" y="768.23" font-size="7.6" text-anchor="end" class="yt" textLength="9.93" lengthAdjust="spacingAndGlyphs">0.2</text>
<text x="380.9" y="758.59" font-size="7.6" text-anchor="end" class="yt" textLength="9.93" lengthAdjust="spacingAndGlyphs">0.3</text>
<text x="380.9" y="748.94" font-size="7.6" text-anchor="end" class="yt" textLength="9.93" lengthAdjust="spacingAndGlyphs">0.4</text>
<text x="380.9" y="739.3" font-size="7.6" text-anchor="end" class="yt" textLength="9.93" lengthAdjust="spacingAndGlyphs">0.5</text>
<text x="380.9" y="729.65" font-size="7.6" text-anchor="end" class="yt" textLength="9.93" lengthAdjust="spacingAndGlyphs">0.6</text>
<text x="380.9" y="720.01" font-size="7.6" text-anchor="end" class="yt" textLength="9.93" lengthAdjust="spacingAndGlyphs">0.7</text>
<text x="380.9" y="710.36" font-size="7.6" text-anchor="end" class="yt" textLength="9.93" lengthAdjust="spacingAndGlyphs">0.8</text>
<text x="380.9" y="700.72" font-size="7.6" text-anchor="end" class="yt" textLength="9.93" lengthAdjust="spacingAndGlyphs">0.9</text>
<text transform="translate(367.6 741.3) rotate(-90)" font-size="6.9" text-anchor="middle" class="yl">Layer-wise alignment accuracy</text>
<rect x="381.8" y="697.8" width="54.8" height="87" fill="none" stroke="#000" stroke-width="1.15"/>
<text x="409.2" y="792.7" font-size="9" text-anchor="middle">0</text>
<text x="409.2" y="802" font-size="9.6" text-anchor="middle" class="xl">Layer shift</text>
<text x="409.2" y="682" font-size="11.8" text-anchor="middle">MHypo Bregma</text>
<text x="409.2" y="694" font-size="11.8" text-anchor="middle" class="xl">-0.14 - -0.19</text>
<rect x="439.7" y="700.9" width="49.2" height="76.8" rx="1" fill="#fff" fill-opacity="0.8" stroke="#ececec" stroke-width="0.7"/>
<rect x="441.6" y="708.25" width="12.4" height="4.1" fill="#c0c1c0"/>
<text x="458.2" y="712.3" font-size="5.8" text-anchor="start" class="lg">SPACEL</text>
<rect x="441.6" y="716.62" width="12.4" height="4.1" fill="#fffad7"/>
<text x="458.2" y="720.67" font-size="5.8" text-anchor="start" class="lg">STalign</text>
<rect x="441.6" y="724.99" width="12.4" height="4.1" fill="#ffdfc2"/>
<text x="458.2" y="729.04" font-size="5.8" text-anchor="start" class="lg">PASTE</text>
<rect x="441.6" y="733.36" width="12.4" height="4.1" fill="#8d8c36"/>
<text x="458.2" y="737.41" font-size="5.8" text-anchor="start" class="lg">STAligner</text>
<rect x="441.6" y="741.73" width="12.4" height="4.1" fill="#5a6bc0"/>
<text x="458.2" y="745.78" font-size="5.8" text-anchor="start" class="lg">DeepST</text>
<rect x="441.6" y="750.1" width="12.4" height="4.1" fill="#292775"/>
<text x="458.2" y="754.15" font-size="5.8" text-anchor="start" class="lg">PASTE2</text>
<rect x="441.6" y="758.47" width="12.4" height="4.1" fill="#a0a0a0"/>
<text x="458.2" y="762.52" font-size="5.8" text-anchor="start" class="lg">SPIRAL</text>
<rect x="441.6" y="766.84" width="12.4" height="4.1" fill="#aa6620"/>
<text x="458.2" y="770.89" font-size="5.8" text-anchor="start" class="lg">PRECAST</text>
<rect x="535.3" y="709.17" width="4.05" height="75.63" fill="#c0c1c0"/>
<rect x="539.3" y="716.53" width="4.05" height="68.27" fill="#ffdfc2"/>
<rect x="543.3" y="718.3" width="4.05" height="66.5" fill="#fffad7"/>
<rect x="547.3" y="721.35" width="4.05" height="63.45" fill="#8d8c36"/>
<rect x="551.3" y="721.86" width="4.05" height="62.94" fill="#292775"/>
<rect x="555.3" y="721.86" width="4.05" height="62.94" fill="#5a6bc0"/>
<rect x="559.3" y="733.78" width="4.05" height="51.02" fill="#a0a0a0"/>
<rect x="563.3" y="756.12" width="4.05" height="28.68" fill="#aa6620"/>
<text x="525" y="787.52" font-size="7.6" text-anchor="end" class="yt" textLength="9.93" lengthAdjust="spacingAndGlyphs">0.0</text>
<text x="525" y="777.88" font-size="7.6" text-anchor="end" class="yt" textLength="9.93" lengthAdjust="spacingAndGlyphs">0.1</text>
<text x="525" y="768.23" font-size="7.6" text-anchor="end" class="yt" textLength="9.93" lengthAdjust="spacingAndGlyphs">0.2</text>
<text x="525" y="758.59" font-size="7.6" text-anchor="end" class="yt" textLength="9.93" lengthAdjust="spacingAndGlyphs">0.3</text>
<text x="525" y="748.94" font-size="7.6" text-anchor="end" class="yt" textLength="9.93" lengthAdjust="spacingAndGlyphs">0.4</text>
<text x="525" y="739.3" font-size="7.6" text-anchor="end" class="yt" textLength="9.93" lengthAdjust="spacingAndGlyphs">0.5</text>
<text x="525" y="729.65" font-size="7.6" text-anchor="end" class="yt" textLength="9.93" lengthAdjust="spacingAndGlyphs">0.6</text>
<text x="525" y="720.01" font-size="7.6" text-anchor="end" class="yt" textLength="9.93" lengthAdjust="spacingAndGlyphs">0.7</text>
<text x="525" y="710.36" font-size="7.6" text-anchor="end" class="yt" textLength="9.93" lengthAdjust="spacingAndGlyphs">0.8</text>
<text x="525" y="700.72" font-size="7.6" text-anchor="end" class="yt" textLength="9.93" lengthAdjust="spacingAndGlyphs">0.9</text>
<text transform="translate(511.7 741.3) rotate(-90)" font-size="6.9" text-anchor="middle" class="yl">Layer-wise alignment accuracy</text>
<rect x="525.9" y="697.8" width="54.8" height="87" fill="none" stroke="#000" stroke-width="1.15"/>
<text x="553.3" y="792.7" font-size="9" text-anchor="middle">0</text>
<text x="553.3" y="802" font-size="9.6" text-anchor="middle" class="xl">Layer shift</text>
<text x="553.3" y="682" font-size="11.8" text-anchor="middle">MHypo Bregma</text>
<text x="553.3" y="694" font-size="11.8" text-anchor="middle" class="xl">-0.19 - -0.24</text>
<rect x="583.8" y="700.9" width="49.2" height="76.8" rx="1" fill="#fff" fill-opacity="0.8" stroke="#ececec" stroke-width="0.7"/>
<rect x="585.7" y="708.25" width="12.4" height="4.1" fill="#c0c1c0"/>
<text x="602.3" y="712.3" font-size="5.8" text-anchor="start" class="lg">SPACEL</text>
<rect x="585.7" y="716.62" width="12.4" height="4.1" fill="#ffdfc2"/>
<text x="602.3" y="720.67" font-size="5.8" text-anchor="start" class="lg">PASTE</text>
<rect x="585.7" y="724.99" width="12.4" height="4.1" fill="#fffad7"/>
<text x="602.3" y="729.04" font-size="5.8" text-anchor="start" class="lg">STalign</text>
<rect x="585.7" y="733.36" width="12.4" height="4.1" fill="#8d8c36"/>
<text x="602.3" y="737.41" font-size="5.8" text-anchor="start" class="lg">STAligner</text>
<rect x="585.7" y="741.73" width="12.4" height="4.1" fill="#292775"/>
<text x="602.3" y="745.78" font-size="5.8" text-anchor="start" class="lg">PASTE2</text>
<rect x="585.7" y="750.1" width="12.4" height="4.1" fill="#5a6bc0"/>
<text x="602.3" y="754.15" font-size="5.8" text-anchor="start" class="lg">DeepST</text>
<rect x="585.7" y="758.47" width="12.4" height="4.1" fill="#a0a0a0"/>
<text x="602.3" y="762.52" font-size="5.8" text-anchor="start" class="lg">SPIRAL</text>
<rect x="585.7" y="766.84" width="12.4" height="4.1" fill="#aa6620"/>
<text x="602.3" y="770.89" font-size="5.8" text-anchor="start" class="lg">PRECAST</text>
<text x="-0.8" y="13.3" font-size="27" font-weight="bold" class="pl">a</text>
<text x="75.3" y="661.7" font-size="27" font-weight="bold" class="pl">b</text>
</svg>
</body>
</html>
